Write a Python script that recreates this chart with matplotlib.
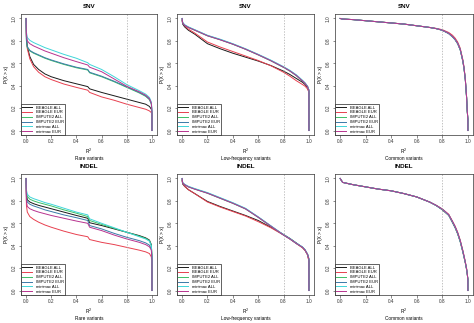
import matplotlib
matplotlib.use('Agg')
import matplotlib.pyplot as plt

plt.rcParams['font.family'] = ['Liberation Sans', 'DejaVu Sans']

# series names and colours (R-like palette)
labels = ['BEAGLE ALL', 'BEAGLE EUR', 'IMPUTE2 ALL', 'IMPUTE2 EUR', 'minimac ALL', 'minimac EUR']
colors = ['#1a1a1a', '#e8404f', '#3cbf66', '#3a7aa8', '#3fd6d9', '#b8338f']

# x grids (R^2 thresholds)
rare_x = [0, 0.003, 0.01, 0.03, 0.06, 0.1, 0.15, 0.2, 0.3, 0.4, 0.49, 0.505,
          0.6, 0.7, 0.8, 0.9, 0.95, 0.98, 0.995, 1.0, 1.0]
low_x = [0, 0.005, 0.02, 0.05, 0.1, 0.2, 0.3, 0.4, 0.5, 0.6, 0.7, 0.8,
         0.85, 0.9, 0.95, 0.97, 0.99, 0.995, 1.0, 1.0]
common_x = [0, 0.02, 0.1, 0.2, 0.3, 0.4, 0.5, 0.6, 0.7, 0.75, 0.8, 0.85, 0.88,
            0.9, 0.92, 0.94, 0.96, 0.97, 0.98, 0.99, 0.995, 1.0, 1.0]

# SNV, rare variants
snv_rare = [
    [1.0, 0.84, 0.75, 0.66, 0.59, 0.545, 0.505, 0.48, 0.445, 0.417, 0.392, 0.372, 0.34, 0.31, 0.28, 0.25, 0.235, 0.215, 0.19, 0.15, 0.0],
    [1.0, 0.82, 0.73, 0.64, 0.57, 0.52, 0.48, 0.455, 0.415, 0.385, 0.36, 0.34, 0.30, 0.27, 0.235, 0.205, 0.19, 0.175, 0.16, 0.14, 0.0],
    [1.0, 0.80, 0.74, 0.71, 0.69, 0.67, 0.645, 0.625, 0.59, 0.56, 0.54, 0.515, 0.48, 0.435, 0.385, 0.335, 0.305, 0.275, 0.235, 0.16, 0.0],
    [1.0, 0.81, 0.75, 0.715, 0.695, 0.675, 0.65, 0.63, 0.595, 0.565, 0.545, 0.52, 0.485, 0.44, 0.39, 0.34, 0.31, 0.28, 0.24, 0.17, 0.0],
    [1.0, 0.88, 0.83, 0.805, 0.785, 0.765, 0.74, 0.72, 0.68, 0.645, 0.605, 0.59, 0.545, 0.48, 0.41, 0.355, 0.325, 0.295, 0.255, 0.18, 0.0],
    [1.0, 0.86, 0.80, 0.775, 0.755, 0.735, 0.71, 0.69, 0.65, 0.615, 0.585, 0.565, 0.525, 0.46, 0.395, 0.345, 0.315, 0.285, 0.245, 0.17, 0.0],
]

# SNV, low-frequency variants
snv_low = [
    [0.98, 0.95, 0.925, 0.895, 0.86, 0.775, 0.73, 0.69, 0.655, 0.62, 0.58, 0.53, 0.50, 0.465, 0.43, 0.41, 0.38, 0.36, 0.35, 0.0],
    [0.99, 0.96, 0.935, 0.905, 0.87, 0.79, 0.745, 0.705, 0.665, 0.625, 0.578, 0.52, 0.485, 0.445, 0.41, 0.395, 0.37, 0.355, 0.34, 0.0],
    [1.0, 0.96, 0.94, 0.92, 0.895, 0.845, 0.81, 0.77, 0.725, 0.675, 0.622, 0.563, 0.53, 0.49, 0.44, 0.42, 0.39, 0.37, 0.36, 0.0],
    [1.0, 0.96, 0.94, 0.922, 0.898, 0.848, 0.812, 0.772, 0.727, 0.678, 0.625, 0.566, 0.533, 0.493, 0.443, 0.422, 0.392, 0.372, 0.362, 0.0],
    [1.0, 0.965, 0.945, 0.925, 0.9, 0.85, 0.815, 0.775, 0.73, 0.68, 0.628, 0.57, 0.537, 0.498, 0.448, 0.425, 0.395, 0.375, 0.365, 0.0],
    [1.0, 0.96, 0.94, 0.92, 0.896, 0.846, 0.81, 0.771, 0.726, 0.676, 0.623, 0.565, 0.532, 0.492, 0.442, 0.42, 0.39, 0.37, 0.36, 0.0],
]

# SNV, common variants
snv_common = [
    [1.0, 0.995, 0.99, 0.98, 0.97, 0.96, 0.95, 0.935, 0.92, 0.91, 0.895, 0.865, 0.835, 0.81, 0.775, 0.72, 0.62, 0.55, 0.45, 0.29, 0.17, 0.1, 0.0],
    [1.0, 0.995, 0.99, 0.98, 0.97, 0.96, 0.95, 0.935, 0.92, 0.912, 0.9, 0.875, 0.85, 0.825, 0.79, 0.735, 0.635, 0.565, 0.46, 0.3, 0.18, 0.1, 0.0],
    [1.0, 0.995, 0.99, 0.98, 0.97, 0.96, 0.95, 0.935, 0.92, 0.91, 0.895, 0.867, 0.838, 0.813, 0.778, 0.724, 0.625, 0.555, 0.455, 0.295, 0.175, 0.1, 0.0],
    [1.0, 0.995, 0.99, 0.98, 0.97, 0.96, 0.95, 0.935, 0.92, 0.91, 0.895, 0.866, 0.836, 0.811, 0.776, 0.721, 0.622, 0.552, 0.452, 0.292, 0.172, 0.1, 0.0],
    [1.0, 0.995, 0.99, 0.98, 0.97, 0.96, 0.95, 0.935, 0.92, 0.91, 0.895, 0.866, 0.837, 0.812, 0.777, 0.723, 0.624, 0.554, 0.454, 0.294, 0.174, 0.1, 0.0],
    [1.0, 0.995, 0.99, 0.98, 0.97, 0.96, 0.95, 0.935, 0.92, 0.91, 0.896, 0.868, 0.84, 0.815, 0.78, 0.726, 0.627, 0.557, 0.456, 0.296, 0.176, 0.1, 0.0],
]

# INDEL, rare variants
indel_rare = [
    [1.0, 0.86, 0.81, 0.79, 0.775, 0.76, 0.745, 0.73, 0.70, 0.67, 0.645, 0.605, 0.58, 0.55, 0.52, 0.49, 0.47, 0.45, 0.41, 0.3, 0.0],
    [1.0, 0.76, 0.70, 0.66, 0.635, 0.61, 0.585, 0.565, 0.53, 0.50, 0.48, 0.455, 0.43, 0.41, 0.385, 0.36, 0.345, 0.33, 0.30, 0.22, 0.0],
    [1.0, 0.88, 0.84, 0.815, 0.80, 0.785, 0.77, 0.755, 0.72, 0.69, 0.66, 0.625, 0.59, 0.555, 0.52, 0.485, 0.465, 0.445, 0.40, 0.3, 0.0],
    [1.0, 0.84, 0.79, 0.77, 0.755, 0.74, 0.72, 0.705, 0.675, 0.65, 0.625, 0.58, 0.55, 0.51, 0.475, 0.445, 0.425, 0.405, 0.37, 0.28, 0.0],
    [1.0, 0.90, 0.86, 0.835, 0.82, 0.805, 0.785, 0.77, 0.735, 0.70, 0.675, 0.64, 0.60, 0.56, 0.52, 0.48, 0.46, 0.44, 0.40, 0.3, 0.0],
    [1.0, 0.80, 0.75, 0.73, 0.715, 0.70, 0.685, 0.67, 0.645, 0.62, 0.60, 0.565, 0.535, 0.495, 0.46, 0.43, 0.41, 0.39, 0.36, 0.27, 0.0],
]

# INDEL, low-frequency variants
indel_low = [
    [0.98, 0.95, 0.93, 0.90, 0.865, 0.795, 0.75, 0.71, 0.67, 0.625, 0.565, 0.50, 0.465, 0.425, 0.385, 0.36, 0.32, 0.29, 0.27, 0.0],
    [0.99, 0.955, 0.93, 0.90, 0.865, 0.79, 0.745, 0.705, 0.665, 0.615, 0.56, 0.495, 0.46, 0.42, 0.38, 0.355, 0.315, 0.285, 0.26, 0.0],
    [1.0, 0.96, 0.945, 0.925, 0.905, 0.868, 0.823, 0.778, 0.728, 0.653, 0.573, 0.495, 0.46, 0.42, 0.385, 0.36, 0.32, 0.30, 0.28, 0.0],
    [1.0, 0.96, 0.945, 0.927, 0.907, 0.871, 0.826, 0.781, 0.731, 0.656, 0.576, 0.497, 0.462, 0.422, 0.387, 0.362, 0.322, 0.302, 0.282, 0.0],
    [1.0, 0.965, 0.948, 0.93, 0.91, 0.874, 0.829, 0.784, 0.734, 0.658, 0.578, 0.498, 0.463, 0.423, 0.388, 0.363, 0.323, 0.303, 0.283, 0.0],
    [1.0, 0.96, 0.945, 0.925, 0.905, 0.869, 0.824, 0.779, 0.729, 0.654, 0.574, 0.495, 0.46, 0.42, 0.385, 0.36, 0.32, 0.30, 0.28, 0.0],
]

# INDEL, common variants
indel_common = [
    [1.0, 0.965, 0.945, 0.925, 0.905, 0.89, 0.865, 0.835, 0.79, 0.76, 0.72, 0.67, 0.605, 0.56, 0.505, 0.435, 0.345, 0.295, 0.245, 0.185, 0.145, 0.1, 0.0],
    [1.0, 0.965, 0.945, 0.925, 0.905, 0.89, 0.865, 0.835, 0.79, 0.762, 0.728, 0.68, 0.618, 0.575, 0.52, 0.45, 0.36, 0.31, 0.255, 0.195, 0.15, 0.1, 0.0],
    [1.0, 0.965, 0.945, 0.925, 0.905, 0.89, 0.865, 0.835, 0.79, 0.76, 0.724, 0.674, 0.61, 0.565, 0.51, 0.44, 0.35, 0.3, 0.25, 0.19, 0.148, 0.1, 0.0],
    [1.0, 0.965, 0.945, 0.925, 0.905, 0.89, 0.865, 0.835, 0.79, 0.76, 0.725, 0.675, 0.612, 0.567, 0.512, 0.442, 0.352, 0.302, 0.25, 0.19, 0.148, 0.1, 0.0],
    [1.0, 0.965, 0.945, 0.925, 0.905, 0.89, 0.865, 0.835, 0.79, 0.76, 0.724, 0.674, 0.61, 0.565, 0.51, 0.44, 0.35, 0.3, 0.25, 0.19, 0.148, 0.1, 0.0],
    [1.0, 0.965, 0.945, 0.925, 0.905, 0.89, 0.865, 0.835, 0.79, 0.761, 0.726, 0.677, 0.614, 0.57, 0.515, 0.445, 0.355, 0.305, 0.252, 0.192, 0.15, 0.1, 0.0],
]

titles = ['SNV', 'SNV', 'SNV', 'INDEL', 'INDEL', 'INDEL']
subtitles = ['Rare variants', 'Low-frequency variants', 'Common variants'] * 2
panel_x = [rare_x, low_x, common_x, rare_x, low_x, common_x]
panel_y = [snv_rare, snv_low, snv_common, indel_rare, indel_low, indel_common]

fig = plt.figure(figsize=(4.74, 3.23), dpi=100)

lefts = [21 / 474, 177 / 474, 335 / 474]
widths = [136 / 474, 137 / 474, 138 / 474]
bottoms = [1 - 135 / 323, 1 - 295 / 323]
height = 121 / 323
ticks = [0.0, 0.2, 0.4, 0.6, 0.8, 1.0]
tick_labels = ['0.0', '0.2', '0.4', '0.6', '0.8', '1.0']

for i in range(6):
    row, col = divmod(i, 3)
    ax = fig.add_axes([lefts[col], bottoms[row], widths[col], height])
    xs = panel_x[i]
    for ys, lab, c in zip(panel_y[i], labels, colors):
        ax.plot(xs, ys, color=c, lw=0.7, label=lab)
    ax.axvline(0.8, color='#aaaaaa', lw=0.5, ls=(0, (2, 2)))
    ax.set_xlim(-0.04, 1.04)
    ax.set_ylim(-0.04, 1.04)
    ax.set_xticks(ticks)
    ax.set_xticklabels(tick_labels)
    ax.set_yticks(ticks)
    ax.set_yticklabels(tick_labels, rotation=90, va='center')
    ax.tick_params(labelsize=3.4, length=1.8, width=0.4, pad=1.2, colors='#333333')
    for s in ax.spines.values():
        s.set_linewidth(0.5)
        s.set_color('#333333')
    ax.set_title(titles[i], fontsize=4.5, fontweight='bold', pad=4)
    ax.set_xlabel('R$^2$\n' + subtitles[i], fontsize=3.4, labelpad=1.5, linespacing=1.1)
    ax.set_ylabel('P(X > x)', fontsize=3.4, labelpad=2)
    leg = ax.legend(loc='lower left', fontsize=3.0, handlelength=2.4, handletextpad=0.8,
                    labelspacing=0.2, borderpad=0.3, borderaxespad=0.0,
                    fancybox=False, framealpha=1, edgecolor='#222222')
    leg.get_frame().set_linewidth(0.5)

plt.savefig('out.png', dpi=100)
